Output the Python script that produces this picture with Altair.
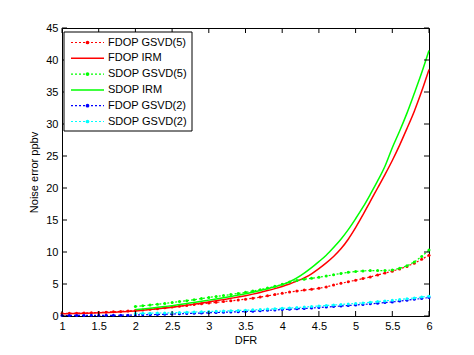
import altair as alt
import pandas as pd

# ---- data ----
dfr_fdop = [round(1.0 + 0.1 * i, 1) for i in range(51)]   # 1.0 .. 6.0
dfr_sdop = [round(2.0 + 0.1 * i, 1) for i in range(41)]   # 2.0 .. 6.0

fdop_gsvd5 = [0.40, 0.42, 0.44, 0.46, 0.50, 0.54, 0.60, 0.66, 0.72, 0.78,
              0.85, 0.95, 1.05, 1.15, 1.27, 1.40, 1.52, 1.65, 1.78, 1.90,
              2.02, 2.13, 2.25, 2.37, 2.50, 2.62, 2.78, 2.95, 3.15, 3.35,
              3.55, 3.75, 3.90, 4.05, 4.18, 4.32, 4.55, 4.85, 5.10, 5.35,
              5.60, 5.85, 6.10, 6.40, 6.70, 7.00, 7.35, 7.75, 8.25, 8.85, 9.50]

fdop_irm = [0.35, 0.37, 0.39, 0.42, 0.45, 0.49, 0.54, 0.59, 0.65, 0.72,
            0.80, 0.90, 1.00, 1.12, 1.24, 1.37, 1.52, 1.68, 1.85, 2.02,
            2.20, 2.38, 2.56, 2.76, 2.96, 3.18, 3.42, 3.68, 3.97, 4.28,
            4.62, 5.00, 5.45, 5.95, 6.60, 7.40, 8.30, 9.30, 10.50, 12.00,
            13.80, 15.80, 17.90, 20.00, 22.10, 24.30, 26.70, 29.30, 32.00, 35.10, 38.50]

sdop_gsvd5 = [1.50, 1.60, 1.72, 1.84, 1.96, 2.10, 2.25, 2.40, 2.55, 2.72,
              2.90, 3.05, 3.20, 3.36, 3.52, 3.70, 3.90, 4.12, 4.36, 4.65,
              4.95, 5.30, 5.55, 5.75, 5.90, 6.05, 6.25, 6.45, 6.65, 6.82,
              6.95, 7.05, 7.10, 7.10, 7.10, 7.20, 7.45, 7.85, 8.45, 9.30, 10.30]

sdop_irm = [1.00, 1.10, 1.22, 1.35, 1.48, 1.62, 1.78, 1.95, 2.12, 2.30,
            2.48, 2.66, 2.85, 3.05, 3.26, 3.48, 3.72, 3.98, 4.26, 4.56,
            4.90, 5.35, 5.95, 6.70, 7.55, 8.50, 9.50, 10.70, 12.00, 13.50,
            15.20, 17.00, 19.00, 21.10, 23.40, 26.30, 28.90, 31.70, 34.80, 38.00, 41.50]

fdop_gsvd2 = [0.08, 0.08, 0.09, 0.09, 0.10, 0.10, 0.11, 0.11, 0.12, 0.13,
              0.15, 0.18, 0.21, 0.24, 0.27, 0.30, 0.34, 0.38, 0.42, 0.46,
              0.50, 0.54, 0.58, 0.62, 0.66, 0.70, 0.76, 0.82, 0.88, 0.94,
              1.00, 1.06, 1.12, 1.18, 1.25, 1.32, 1.40, 1.48, 1.56, 1.64,
              1.72, 1.80, 1.90, 2.00, 2.10, 2.20, 2.33, 2.46, 2.60, 2.74, 2.88]

sdop_gsvd2 = [0.40, 0.42, 0.44, 0.46, 0.48, 0.50, 0.54, 0.58, 0.62, 0.66,
              0.70, 0.74, 0.78, 0.82, 0.86, 0.90, 0.96, 1.02, 1.08, 1.14,
              1.20, 1.26, 1.32, 1.40, 1.48, 1.56, 1.64, 1.72, 1.80, 1.88,
              1.96, 2.05, 2.15, 2.25, 2.36, 2.47, 2.58, 2.70, 2.83, 2.96, 3.10]

series_names = ["FDOP GSVD(5)", "FDOP IRM", "SDOP GSVD(5)", "SDOP IRM",
                "FDOP GSVD(2)", "SDOP GSVD(2)"]
series_colors = ["#ff0000", "#ff0000", "#00ff00", "#00ff00", "#0000ff", "#00ffff"]
series_dotted = [True, False, True, False, True, True]
series_x = [dfr_fdop, dfr_fdop, dfr_sdop, dfr_sdop, dfr_fdop, dfr_sdop]
series_y = [fdop_gsvd5, fdop_irm, sdop_gsvd5, sdop_irm, fdop_gsvd2, sdop_gsvd2]

x_ticks = [1, 1.5, 2, 2.5, 3, 3.5, 4, 4.5, 5, 5.5, 6]
y_ticks = [0, 5, 10, 15, 20, 25, 30, 35, 40, 45]

# ---- chart ----
W, H = 367, 288
FONT = "Liberation Sans"

x_axis = alt.Axis(title="DFR", values=x_ticks, format="~g", tickSize=0, domain=False,
                  grid=False, labelFont=FONT, labelFontSize=11, labelColor="black",
                  labelPadding=4, titleFont=FONT, titleFontSize=11, titleFontWeight="normal",
                  titleColor="black", titlePadding=3, labelFlush=False)
y_axis = alt.Axis(title="Noise error ppbv", values=y_ticks, tickSize=0, domain=False,
                  grid=False, labelFont=FONT, labelFontSize=11, labelColor="black",
                  labelPadding=4, titleFont=FONT, titleFontSize=11, titleFontWeight="normal",
                  titleColor="black", titlePadding=6, labelFlush=False)

X = alt.X("dfr:Q", scale=alt.Scale(domain=[1, 6], nice=False, zero=False), axis=x_axis)
Y = alt.Y("val:Q", scale=alt.Scale(domain=[0, 45], nice=False), axis=y_axis)

layers = []
for name, color, dotted, xs, ys in zip(series_names, series_colors, series_dotted,
                                       series_x, series_y):
    df = pd.DataFrame({"dfr": xs, "val": ys})
    if dotted:
        layers.append(alt.Chart(df).mark_line(color=color, strokeWidth=1.2,
                                              strokeDash=[2, 2]).encode(x=X, y=Y))
        layers.append(alt.Chart(df).mark_circle(color=color, size=9, opacity=1)
                      .encode(x=X, y=Y))
    else:
        layers.append(alt.Chart(df).mark_line(color=color, strokeWidth=1.5,
                                              interpolate="monotone").encode(x=X, y=Y))

# inward tick marks (MATLAB style) on all four sides
xt = pd.DataFrame({"dfr": x_ticks})
yt = pd.DataFrame({"val": y_ticks})
layers.append(alt.Chart(xt).mark_rule(color="black", strokeWidth=1)
              .encode(x=X, y=alt.value(H), y2=alt.value(H - 5)))
layers.append(alt.Chart(xt).mark_rule(color="black", strokeWidth=1)
              .encode(x=X, y=alt.value(0), y2=alt.value(5)))
layers.append(alt.Chart(yt).mark_rule(color="black", strokeWidth=1)
              .encode(y=Y, x=alt.value(0), x2=alt.value(5)))
layers.append(alt.Chart(yt).mark_rule(color="black", strokeWidth=1)
              .encode(y=Y, x=alt.value(W), x2=alt.value(W - 5)))

# legend box
one = alt.Data(values=[{}])
layers.append(alt.Chart(one).mark_rect(fill="white", stroke="black", strokeWidth=1)
              .encode(x=alt.value(2), x2=alt.value(130), y=alt.value(4), y2=alt.value(103)))
for i, (name, color, dotted) in enumerate(zip(series_names, series_colors, series_dotted)):
    yy = 14.5 + 15.8 * i
    if dotted:
        layers.append(alt.Chart(one).mark_rule(color=color, strokeWidth=1.2, strokeDash=[2, 2])
                      .encode(x=alt.value(9), x2=alt.value(42), y=alt.value(yy)))
        layers.append(alt.Chart(one).mark_circle(color=color, size=14, opacity=1)
                      .encode(x=alt.value(25.5), y=alt.value(yy)))
    else:
        layers.append(alt.Chart(one).mark_rule(color=color, strokeWidth=1.5)
                      .encode(x=alt.value(9), x2=alt.value(42), y=alt.value(yy)))
    layers.append(alt.Chart(one).mark_text(text=name, align="left", baseline="middle",
                                           font=FONT, fontSize=11, color="black")
                  .encode(x=alt.value(46), y=alt.value(yy)))

chart = alt.layer(*layers).properties(
    width=W, height=H,
    padding={"left": 62, "top": 28, "right": 474 - 62 - W, "bottom": 355 - 28 - H},
    autosize=alt.AutoSizeParams(type="none"),
    background="white",
).configure_view(stroke="black", strokeWidth=1)

chart.save("out.html", embed_options={"renderer": "svg", "actions": False})
